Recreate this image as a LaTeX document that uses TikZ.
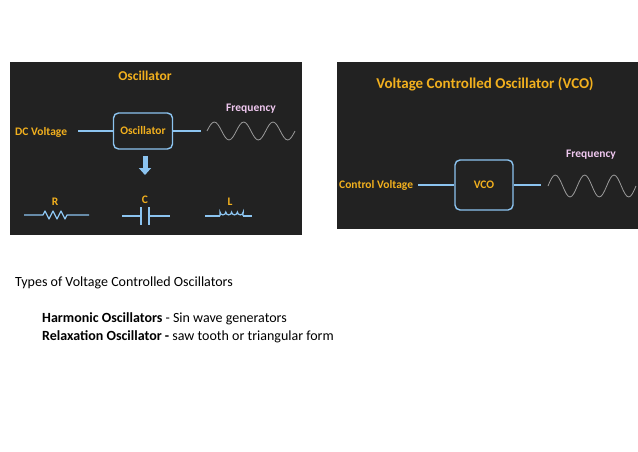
\documentclass[tikz,border=0pt]{standalone}
\usepackage{fontspec}
\setmainfont{Carlito}
\usetikzlibrary{arrows.meta}
\definecolor{bgd}{HTML}{222222}
\definecolor{org}{HTML}{F2B01E}
\definecolor{pnk}{HTML}{F0C8F0}
\definecolor{blu}{HTML}{8CC4F0}
\definecolor{wav}{HTML}{9A9A9A}
\begin{document}
\begin{tikzpicture}[x=1pt,y=-1pt,
  lbl/.style={text=org,font=\bfseries\fontsize{11.5}{13}\selectfont,inner sep=0pt},
  freq/.style={text=pnk,font=\bfseries\fontsize{11.5}{13}\selectfont,inner sep=0pt},
  blk/.style={draw=blu,line width=1.4pt,rounded corners=5pt,fill=bgd},
  wire/.style={draw=blu,line width=1.2pt},
  wave/.style={draw=wav,line width=0.8pt},
  body/.style={font=\fontsize{14}{16}\selectfont,inner sep=0pt,anchor=west}]
\useasboundingbox (0,0) rectangle (638,451);
\fill[white] (0,0) rectangle (638,451);
% left panel
\fill[bgd] (10,62) rectangle (302,235);
\node[lbl,font=\bfseries\fontsize{13.5}{15}\selectfont] (t1) at (145,76) {Oscillator};
\node[blk,minimum width=59pt,minimum height=36pt] (osc) at (143,131) {};
\node[lbl] (osct) at (143,131) {Oscillator};
\node[lbl,anchor=west] (dc) at (15,132) {DC Voltage};
\coordinate (dcw) at (78,131);
\coordinate (ow) at (201,131);
\draw[wire] (dcw) -- (osc.west);
\draw[wire] (osc.east) -- (ow);
\draw[wave] (207,131) sin (214.3,122) cos (221.7,131) sin (229,140) cos (236.3,131) sin (243.7,122) cos (251,131) sin (258.3,140) cos (265.7,131) sin (273,122) cos (280.3,131) sin (287.7,140) cos (295,131);
\node[freq] (f1) at (251,109) {Frequency};
\draw[-{Triangle[width=12pt,length=7pt]},blu,line width=5pt] (145,156) -- (145,175);
\node[lbl] (r) at (55,202) {R};
\node[lbl] (c) at (145,200) {C};
\node[lbl] (l) at (230,202) {L};
\draw[wire,line join=round] (24,215) -- (43,215) -- (45,211) -- (49,219) -- (53,211) -- (57,219) -- (61,211) -- (65,219) -- (67,215) -- (89,215);
\draw[wire] (122,216) -- (141,216) (141,207) -- (141,225) (149,207) -- (149,225) (149,216) -- (170,216);
\draw[wire] (205,216) -- (220,216) (243,216) -- (252,216);
\draw[wire] (220,216) -- (220,212) arc[start angle=180,end angle=0,radius=2.9] \foreach \i in {1,...,3}{arc[start angle=180,end angle=0,radius=2.9]} -- (243,216);
% right panel
\fill[bgd] (337,62) rectangle (638,229);
\node[lbl,font=\bfseries\fontsize{15}{17}\selectfont] (t2) at (485,84) {Voltage Controlled Oscillator (VCO)};
\node[blk,minimum width=58pt,minimum height=50pt] (vco) at (484,185) {};
\node[lbl] (vcot) at (484,185) {VCO};
\node[lbl,anchor=west] (cv) at (339,185) {Control Voltage};
\coordinate (cvw) at (418,185);
\coordinate (vw) at (541,185);
\draw[wire] (cvw) -- (vco.west);
\draw[wire] (vco.east) -- (vw);
\draw[wave] (548,186) sin (555.3,175) cos (562.7,186) sin (570,197) cos (577.3,186) sin (584.7,175) cos (592,186) sin (599.3,197) cos (606.7,186) sin (614,175) cos (621.3,186) sin (628.7,197) cos (636,186);
\node[freq] (f2) at (591,155) {Frequency};
% text
\node[body] (b1) at (15,283) {Types of Voltage Controlled Oscillators};
\node[body] (b2) at (42,319) {\textbf{Harmonic Oscillators} - Sin wave generators};
\node[body] (b3) at (42,337) {\textbf{Relaxation Oscillator -} saw tooth or triangular form};
\end{tikzpicture}
\end{document}
